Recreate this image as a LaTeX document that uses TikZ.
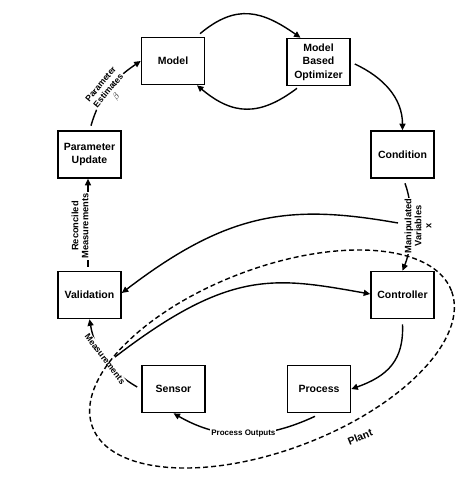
\documentclass[tikz,border=0pt]{standalone}
\usepackage{fontspec}
\setmainfont{Liberation Sans}
\usetikzlibrary{arrows.meta}
\begin{document}
\begin{tikzpicture}[x=1pt,y=1pt,
  box/.style={draw, line width=1.6pt, minimum width=63pt, minimum height=47pt, align=center,
    font=\bfseries\fontsize{10.5}{13.5}\selectfont, inner sep=1pt},
  conn/.style={line width=1.4pt, -{Triangle[length=6.5pt,width=6pt]}},
  lab/.style={font=\bfseries\fontsize{8.7}{10}\selectfont, align=center, inner sep=1pt, fill=white},
  vlab/.style={lab, font=\bfseries\fontsize{9.3}{10}\selectfont},
  plantline/.style={line width=1.4pt, dash pattern=on 5pt off 3pt},
]
\useasboundingbox (0,0) rectangle (474,-496);
% boxes
\node[box] (model) at (173,-61) {Model};
\node[box] (mbo) at (318.5,-62) {Model\\Based\\Optimizer};
\node[box] (pu) at (89.5,-154.5) {Parameter\\Update};
\node[box] (cond) at (402.5,-154.5) {Condition};
\node[box] (val) at (89.5,-295) {Validation};
\node[box] (ctrl) at (402.5,-295) {Controller};
\node[box] (sensor) at (173.5,-389) {Sensor};
\node[box] (process) at (319,-389) {Process};
% free ends
\coordinate (mvsrc) at (398,-223);
\coordinate (msrc) at (115,-357);
% connectors
\draw[conn] ([shift={(27,3)}]model.north) to[out=40,in=145,looseness=1.2] ([xshift=-18]mbo.north);
\draw[conn] ([shift={(-21.5,-2)}]mbo.south) to[out=-143,in=-40,looseness=1.2] ([xshift=24]model.south);
\draw[conn] ([shift={(4,-2)}]mbo.east) to[out=-25,in=90] (cond.north);
\draw[conn] ([shift={(1.5,4.5)}]pu.north) to[out=74,in=-146] (model.west);
\draw[conn] ([shift={(-1.5,4)}]val.north) -- ([xshift=-1.5]pu.south);
\draw[conn] ([shift={(2.5,-4.5)}]cond.south) to[out=-70,in=68,looseness=0.8] (ctrl.north);
\draw[conn] (mvsrc) .. controls (290.6,-204) and (229,-211) .. ([yshift=2]val.east);
\draw[conn] (msrc) .. controls (230,-268.7) and (274.6,-277) .. ([yshift=1]ctrl.west);
\draw[conn] ([yshift=-5]ctrl.south) .. controls (404,-360) and (388,-376) .. (process.east);
\draw[conn] ([shift={(-4,-3)}]process.south) to[out=-155,in=-30]
  node[lab, font=\bfseries\fontsize{8}{9}\selectfont] (po) {Process Outputs} (sensor.south);
\draw[conn] ([shift={(-4,2)}]sensor.west) to[out=150,in=-80]
  node[lab, rotate=-53] (meas) {Measurements} (val.south);
% labels
\node[lab, rotate=50] (pe) at (109,-91) {Parameter\\Estimates\\$\beta$};
\node[vlab, rotate=90] (rm) at (80,-226) {Reconciled\\Measurements};
\node[vlab, rotate=90] (mv) at (418,-226) {Manipulated\\Variables\\x};
% plant
\draw[plantline] (272,-359) ellipse[x radius=192, y radius=91, rotate=20.8];
\node[font=\bfseries\fontsize{10.5}{12}\selectfont, rotate=22] (plant) at (360,-437) {Plant};
\end{tikzpicture}
\end{document}
